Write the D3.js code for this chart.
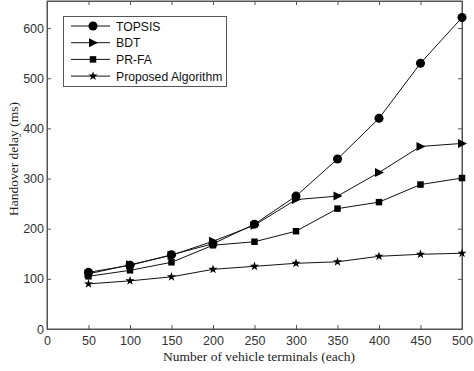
<!DOCTYPE html>
<html>
<head>
<meta charset="utf-8">
<script src="https://cdn.jsdelivr.net/npm/d3@7"></script>
<style>
  body { margin: 0; background: #fff; }
  svg { display: block; }
  .tick text { font-family: "Liberation Sans", Arial, sans-serif; font-size: 12.5px; fill: #333; }
  .axis-label { font-family: "Liberation Serif", "Times New Roman", serif; font-size: 13.5px; fill: #222; }
  .legend text { font-family: "Liberation Sans", Arial, sans-serif; font-size: 12.2px; fill: #111; }
</style>
</head>
<body>
<div id="chart"></div>
<script>
// -------- data ---------- //
var terminals = [50, 100, 150, 200, 250, 300, 350, 400, 450, 500];
var topsis = [113, 127, 148, 170, 209, 265, 339, 420, 530, 621];
var bdt = [110, 128, 147, 175, 207, 258, 265, 312, 364, 370];
var prfa = [105, 117, 133, 167, 174, 195, 240, 253, 288, 301];
var proposed = [90, 96, 104, 119, 125, 131, 134, 145, 149, 151];
var xTicks = [0, 50, 100, 150, 200, 250, 300, 350, 400, 450, 500];
var yTicks = [0, 100, 200, 300, 400, 500, 600];

var series = [
  { name: "TOPSIS", values: topsis, symbol: d3.symbolCircle },
  { name: "BDT", values: bdt, symbol: "triangle" },
  { name: "PR-FA", values: prfa, symbol: d3.symbolSquare },
  { name: "Proposed Algorithm", values: proposed, symbol: d3.symbolStar },
];

var width = 474;
var height = 371;
var margin = { top: 1, right: 12, bottom: 42, left: 47 };
var w = width - margin.left - margin.right;
var h = height - margin.top - margin.bottom;

var svg = d3
  .select("#chart")
  .append("svg")
  .attr("width", width)
  .attr("height", height);

var g = svg
  .append("g")
  .attr("transform", "translate(" + margin.left + "," + margin.top + ")");

var x = d3.scaleLinear().domain([0, 500]).range([0, w]);
var y = d3.scaleLinear().domain([0, 654]).range([h, 0]);

// axes, ticks pointing inwards (matlab style box)
g.append("g")
  .attr("transform", "translate(0," + h + ")")
  .call(d3.axisBottom(x).tickValues(xTicks).tickSizeInner(-4).tickSizeOuter(0).tickPadding(7));
g.append("g")
  .call(d3.axisLeft(y).tickValues(yTicks).tickSizeInner(-4).tickSizeOuter(0).tickPadding(3));
g.append("g")
  .call(d3.axisTop(x).tickValues(xTicks).tickSizeInner(-4).tickSizeOuter(0).tickFormat(""));
g.append("g")
  .attr("transform", "translate(" + w + ",0)")
  .call(d3.axisRight(y).tickValues(yTicks).tickSizeInner(-4).tickSizeOuter(0).tickFormat(""));
g.selectAll(".domain, .tick line").attr("stroke", "#555");

g.append("rect")
  .attr("width", w)
  .attr("height", h)
  .attr("fill", "none")
  .attr("stroke", "#555");

// axis labels
svg
  .append("text")
  .attr("class", "axis-label")
  .attr("x", 259)
  .attr("y", 361)
  .attr("text-anchor", "middle")
  .text("Number of vehicle terminals (each)");
svg
  .append("text")
  .attr("class", "axis-label")
  .attr("transform", "translate(18,159) rotate(-90)")
  .attr("text-anchor", "middle")
  .text("Handover delay (ms)");

// marker drawing
function marker(sel, symbol) {
  if (symbol === "triangle") {
    sel.append("path").attr("d", "M-4,-4.5L5,0L-4,4.5Z");
  } else if (symbol === d3.symbolCircle) {
    sel.append("path").attr("d", d3.symbol(symbol, 64));
  } else if (symbol === d3.symbolSquare) {
    sel.append("path").attr("d", d3.symbol(symbol, 42));
  } else {
    sel.append("path").attr("d", d3.symbol(symbol, 26));
  }
}

var line = d3
  .line()
  .x((d, i) => x(terminals[i]))
  .y((d) => y(d));

series.forEach(function(s) {
  g.append("path")
    .datum(s.values)
    .attr("fill", "none")
    .attr("stroke", "#111")
    .attr("stroke-width", 1)
    .attr("d", line);
  s.values.forEach(function(v, i) {
    var m = g
      .append("g")
      .attr("transform", "translate(" + x(terminals[i]) + "," + y(v) + ")")
      .attr("fill", "#000");
    marker(m, s.symbol);
  });
});

// legend
var legend = svg.append("g").attr("class", "legend");
legend
  .append("rect")
  .attr("x", 63.5)
  .attr("y", 16.5)
  .attr("width", 163)
  .attr("height", 70)
  .attr("fill", "#fff")
  .attr("stroke", "#555");
series.forEach(function(s, i) {
  var ly = 26 + i * 16.7;
  legend
    .append("line")
    .attr("x1", 71)
    .attr("x2", 110)
    .attr("y1", ly)
    .attr("y2", ly)
    .attr("stroke", "#111");
  var m = legend
    .append("g")
    .attr("transform", "translate(93," + ly + ")")
    .attr("fill", "#000");
  marker(m, s.symbol);
  legend
    .append("text")
    .attr("x", 116)
    .attr("y", ly + 4.5)
    .text(s.name);
});
</script>
</body>
</html>
